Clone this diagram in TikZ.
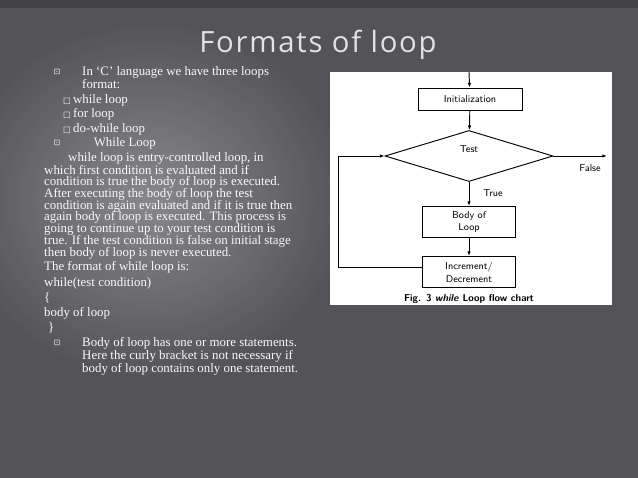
\documentclass[tikz,border=0pt]{standalone}
\usepackage{fontspec}
\setmainfont{Liberation Serif}
\newfontfamily\dejavu{DejaVu Sans}
\newfontfamily\titlefont{Open Sans}
\usetikzlibrary{shapes.geometric,arrows.meta}
\begin{document}
\begin{tikzpicture}[x=0.03cm,y=-0.03cm,
  txt/.style={anchor=west,inner sep=0pt,text=white!95!gray,font=\fontsize{11}{11.5}\selectfont},
  bul/.style={anchor=center,inner sep=0pt,text=white!85!gray,font=\dejavu\fontsize{7}{7}\selectfont},
  fbox/.style={draw=black,thick,fill=white,inner sep=0pt,font=\sffamily\fontsize{8.5}{11}\selectfont,align=center},
  flow/.style={draw=black,thick,-{Latex[length=4pt]}},
  lab/.style={inner sep=0pt,font=\sffamily\fontsize{8.5}{10}\selectfont}]
\useasboundingbox (0,0) rectangle (638,478);
\fill[fill={rgb,255:red,84;green,84;blue,88}] (0,0) rectangle (638,478);
\shade[inner color={rgb,255:red,150;green,148;blue,152},outer color={rgb,255:red,84;green,84;blue,88},opacity=0.8] (150,200) ellipse (200 and 180);
\fill[fill={rgb,255:red,66;green,66;blue,70}] (0,0) rectangle (638,8);
\node[text={rgb,255:red,225;green,225;blue,230},font=\titlefont\fontsize{25}{28}\selectfont] (title) at (318,45) {\addfontfeatures{LetterSpace=6}Formats of loop};
% left text
\node[bul] (b1) at (57,72) {⊡};
\node[txt] (t1) at (82,72) {In ‘C’ language we have three loops};
\node[txt] (t2) at (82,84) {format:};
\node[txt] (t3) at (63,100) {{\dejavu\fontsize{7}{7}\selectfont □}\,while loop};
\node[txt] (t4) at (63,114) {{\dejavu\fontsize{7}{7}\selectfont □}\,for loop};
\node[txt] (t5) at (63,129) {{\dejavu\fontsize{7}{7}\selectfont □}\,do-while loop};
\node[bul] (b2) at (57,143) {⊡};
\node[txt] (t6) at (82,143) {\hspace{0.9em}While Loop};
\node[txt] (p1) at (68,158) {while loop is entry-controlled loop, in};
\node[txt] (p2) at (44,170) {which first condition is evaluated and if};
\node[txt] (p3) at (44,182) {condition is true the body of loop is executed.};
\node[txt] (p4) at (44,194) {After executing the body of loop the test};
\node[txt] (p5) at (44,206) {condition is again evaluated and if it is true then};
\node[txt] (p6) at (44,217) {again body of loop is executed. This process is};
\node[txt] (p7) at (44,229) {going to continue up to your test condition is};
\node[txt] (p8) at (44,241) {true. If the test condition is false on initial stage};
\node[txt] (p9) at (44,253) {then body of loop is never executed.};
\node[txt] (f1) at (44,267) {The format of while loop is:};
\node[txt] (f2) at (44,283) {while(test condition)};
\node[txt] (f3) at (44,298) {\{};
\node[txt] (f4) at (44,313) {body of loop};
\node[txt] (f5) at (48,328) {\}};
\node[bul] (b3) at (57,343) {⊡};
\node[txt] (q1) at (82,343) {Body of loop has one or more statements.};
\node[txt] (q2) at (82,356) {Here the curly bracket is not necessary if};
\node[txt] (q3) at (82,369) {body of loop contains only one statement.};
% flowchart
\fill[white] (330,72) rectangle (612,305);
\coordinate (top) at (469,72);
\node[fbox,minimum width=104*0.03cm,minimum height=22*0.03cm] (init) at (470,99) {Initialization};
\node[diamond,draw=black,thick,fill=white,aspect=3.3,minimum width=168*0.03cm,minimum height=51*0.03cm,inner sep=0pt,font=\sffamily\fontsize{8.5}{10}\selectfont] (test) at (469,156) {\raisebox{12pt}{Test}};
\node[fbox,minimum width=93*0.03cm,minimum height=31*0.03cm] (body) at (469,222) {Body of\\Loop};
\node[fbox,minimum width=93*0.03cm,minimum height=31*0.03cm] (inc) at (469,272) {Increment/\\Decrement};
\coordinate (falseend) at (607,156);
\coordinate (lc) at (338,267);
\draw[flow] (top) -- (init);
\draw[flow] (init) -- (test);
\draw[flow] (test.east) -- (falseend);
\draw[flow] (test.south) -- (body);
\draw[flow] (body) -- (inc);
\draw[flow] (inc.west |- lc) -- (lc) |- (test.west);
\node[lab] (fl) at (590,168) {False};
\node[lab] (tl) at (493,193) {True};
\node[inner sep=0pt,font=\sffamily\bfseries\fontsize{8.5}{10}\selectfont] (cap) at (469,299) {Fig. 3 \textit{while} Loop flow chart};
\end{tikzpicture}
\end{document}
